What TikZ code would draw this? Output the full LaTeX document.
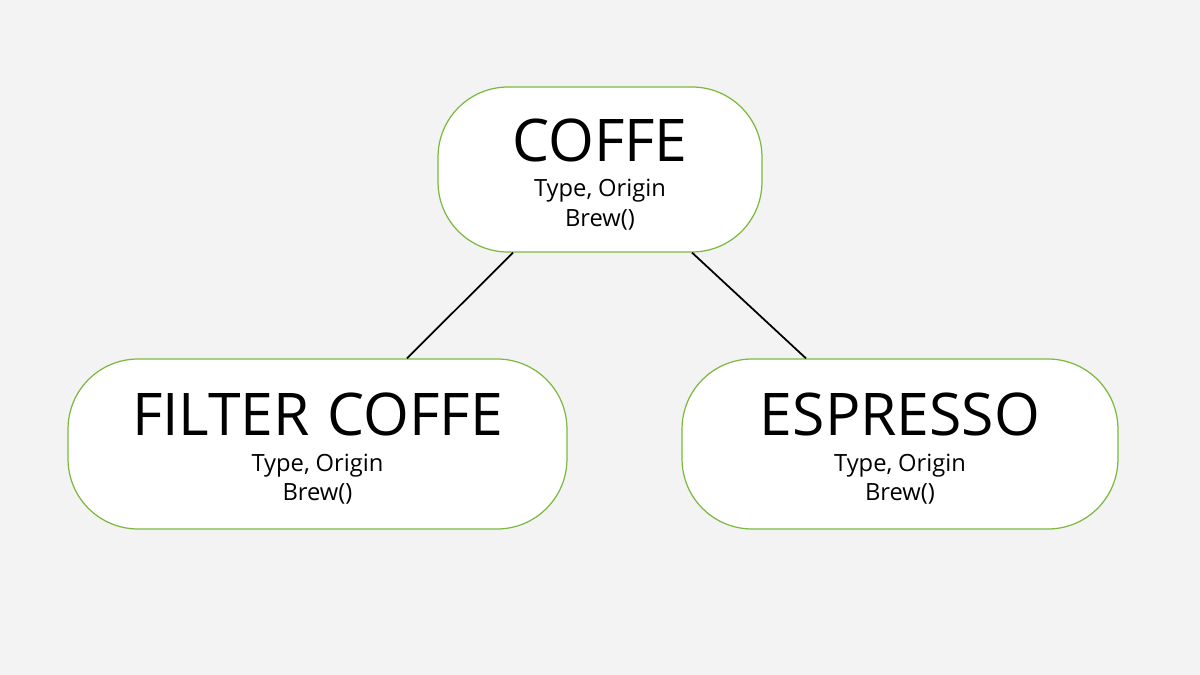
\documentclass[tikz,border=0pt]{standalone}
\usepackage{fontspec}
\setmainfont{Open Sans}
\usetikzlibrary{calc}
\definecolor{bgcol}{HTML}{F3F3F3}
\definecolor{boxline}{HTML}{7DB93F}
\tikzset{
	classbox/.style={draw=boxline, line width=0.7pt, fill=white, rounded corners=1.4cm,
		inner sep=0pt},
	classtext/.style={align=center, inner sep=0pt, yshift=-0.1cm},
	link/.style={draw=black, line width=1pt}
}
\newcommand{\classname}[1]{{\fontsize{33.5}{35}\selectfont\spaceskip=0.3em #1\par}\vspace{3pt}
	{\fontsize{13.5}{17}\selectfont Type, Origin\\ Brew()\par}}
\begin{document}
\begin{tikzpicture}[x=0.02cm,y=-0.02cm]
	\fill[bgcol] (0,0) rectangle (1200,675);
	\useasboundingbox (0,0) rectangle (1200,675);

	\node[classbox, minimum width=6.48cm, minimum height=3.3cm] (coffe) at (600,169.5) {};
	\node[classbox, minimum width=9.98cm, minimum height=3.4cm] (filter) at (317.5,444) {};
	\node[classbox, minimum width=8.72cm, minimum height=3.4cm] (espresso) at (900,444) {};

	\node[classtext, text width=6cm] (coffetext) at (coffe.center) {\classname{COFFE}};
	\node[classtext, text width=9.5cm] (filtertext) at (filter.center) {\classname{FILTER COFFE}};
	\node[classtext, text width=8cm] (espressotext) at (espresso.center) {\classname{ESPRESSO}};

	\draw[link] ($(coffe.south)+(-87,0)$) -- ($(filter.north)+(89.5,0)$);
	\draw[link] ($(coffe.south)+(92,0)$) -- ($(espresso.north)+(-94,0)$);
\end{tikzpicture}
\end{document}
